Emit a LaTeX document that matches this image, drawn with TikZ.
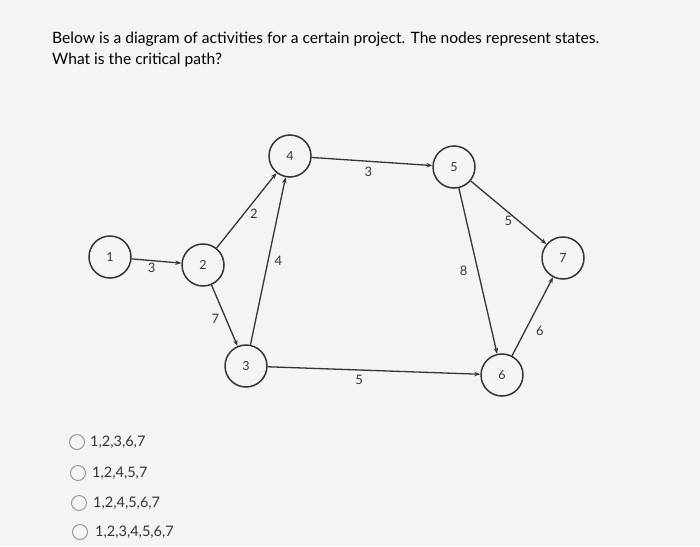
\documentclass[tikz,border=0pt]{standalone}
\usepackage{fontspec}
\setmainfont{Lato}
\usetikzlibrary{automata,arrows.meta}
\definecolor{ink}{HTML}{353535}
\definecolor{paper}{HTML}{F3F5F5}
\definecolor{ring}{HTML}{9A9A9A}

\begin{document}
\begin{tikzpicture}[x=1pt,y=-1pt,auto,
   state/.append style={minimum size=42pt,inner sep=0pt,line width=1.5pt,draw=ink,text=ink,font=\fontsize{12.5}{12.5}\selectfont},
   lbl/.style={text=ink,inner sep=2pt,font=\fontsize{13}{13}\selectfont},
   every edge/.style={draw=ink,line width=1.3pt},
   radio/.style={circle,draw=ring,line width=1pt,minimum size=15pt,inner sep=0pt},
   choice/.style={anchor=west,text=ink,inner sep=0pt,font=\fontsize{14.5}{14.5}\selectfont}]
   \useasboundingbox[fill=paper] (0,0) rectangle (700,546);
   \node[anchor=base west,text=black,inner sep=0pt,font=\fontsize{15.6}{15.6}\selectfont] (title1) at (52,43)
      {Below is a diagram of activities for a certain project. The nodes represent states.};
   \node[anchor=base west,text=black,inner sep=0pt,font=\fontsize{15.6}{15.6}\selectfont] (title2) at (52,64)
      {What is the critical path?};
   \node[state] (n1) at (110,257) {1};
   \node[state] (n2) at (203,265) {2};
   \node[state] (n3) at (246,366) {3};
   \node[state] (n4) at (290,156) {4};
   \node[state] (n5) at (454,167) {5};
   \node[state] (n6) at (502,375) {6};
   \node[state] (n7) at (563,258) {7};
   \path[-{Stealth[length=6pt,width=4.5pt]}]
    (n1) edge node[lbl,pos=.4,below] {3} (n2)
    (n2) edge node[lbl,pos=.45,right=4pt] {2} (n4)
         edge node[lbl,pos=.55,left=4pt] {7} (n3)
    (n3) edge node[lbl,pos=.5,right=4pt] {4} (n4)
         edge node[lbl,pos=.43,below=3pt] {5} (n6)
    (n4) edge node[lbl,pos=.47,below=3pt] {3} (n5)
    (n5) edge node[lbl,pos=.5,below=1pt] {5} (n7)
         edge node[lbl,pos=.5,left=8pt] {8} (n6)
    (n6) edge node[lbl,pos=.45,below right=3pt] {6} (n7);
   \node[radio] (r1) at (77,442) {};
   \node[radio] (r2) at (78,473) {};
   \node[radio] (r3) at (79,503) {};
   \node[radio] (r4) at (80,532) {};
   \node[choice] (c1) at (90,442) {1,2,3,6,7};
   \node[choice] (c2) at (92,473) {1,2,4,5,7};
   \node[choice] (c3) at (93,503) {1,2,4,5,6,7};
   \node[choice] (c4) at (95,532) {1,2,3,4,5,6,7};
\end{tikzpicture}
\end{document}
